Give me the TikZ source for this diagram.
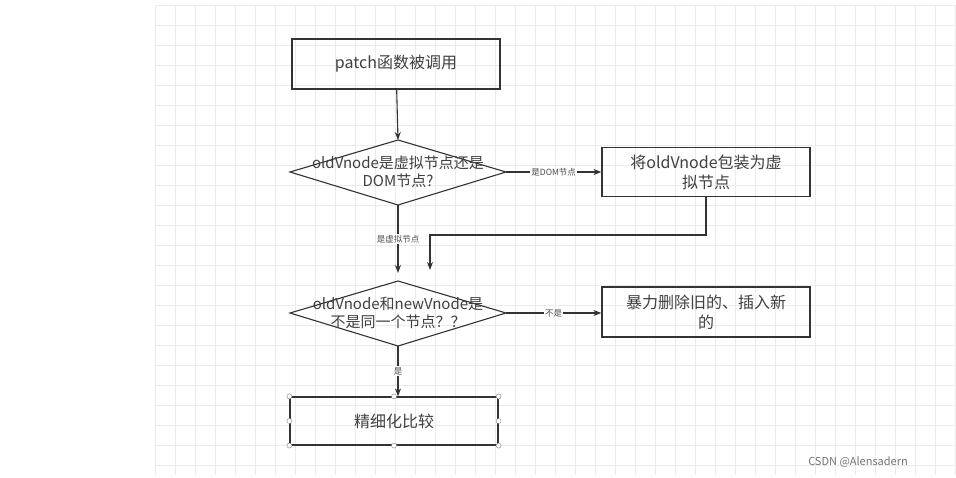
\documentclass[tikz,border=0pt]{standalone}
\usepackage{fontspec}
\setmainfont{Noto Sans CJK SC}
\usetikzlibrary{arrows.meta}
\begin{document}
\begin{tikzpicture}[x=1pt,y=-1pt,
 box/.style={draw=black!80,line width=1.2pt,minimum width=208pt,minimum height=50pt,align=center,font=\fontsize{16}{20}\selectfont,text=black!75,inner sep=2pt},
 dt/.style={align=center,font=\fontsize{15}{18}\selectfont,text=black!75,inner sep=0pt},
 dline/.style={draw=black!80,line width=1.1pt},
 arr/.style={draw=black!80,line width=1.1pt,-{Stealth[length=8pt,width=6pt]}},
 lab/.style={fill=white,inner sep=1pt,font=\fontsize{8.5}{10}\selectfont,text=black!70},
 hd/.style={circle,draw=black!50,fill=white,inner sep=0pt,minimum size=5pt}]
\useasboundingbox (0,0) rectangle (956,478);
\fill[white] (0,0) rectangle (956,478);
\foreach \x in {155,175,...,955} \draw[black!8,line width=0.5pt] (\x,5) -- (\x,475);
\foreach \y in {5,25,...,475} \draw[black!8,line width=0.5pt] (155,\y) -- (955,\y);
\node[box] (p) at (396,64) {patch函数被调用};
% diamond 1
\coordinate (d1n) at (398,140); \coordinate (d1e) at (506,172);
\coordinate (d1s) at (398,205); \coordinate (d1w) at (290,172);
\draw[dline] (d1n) -- (d1e) -- (d1s) -- (d1w) -- cycle;
\node[dt] (d1) at (398,172) {oldVnode是虚拟节点还是\\DOM节点?};
% diamond 2
\coordinate (d2n) at (398,281); \coordinate (d2e) at (506,313);
\coordinate (d2s) at (398,346); \coordinate (d2w) at (290,313);
\draw[dline] (d2n) -- (d2e) -- (d2s) -- (d2w) -- cycle;
\node[dt] (d2) at (398,313) {oldVnode和newVnode是\\不是同一个节点？？};
\node[box,minimum height=49pt] (b2) at (706,172) {将oldVnode包装为虚\\拟节点};
\node[box] (b3) at (706,312) {暴力删除旧的、插入新\\的};
\node[box,minimum height=48pt] (b4) at (394,421) {精细化比较};
\foreach \a in {north west,north,north east,east,south east,south,south west,west}
  \node[hd] (h\a) at (b4.\a) {};
\coordinate (t1) at (430,235);
\coordinate (t2) at (430,270);
\coordinate (t3) at (398,273);
\draw[arr] (p) -- (d1n);
\draw[arr] (d1e) -- node[lab]{是DOM节点} (b2.west |- d1e);
\draw[arr] (d1s) -- node[lab,pos=0.5]{是虚拟节点} (t3);
\draw[arr] (b2.south) |- (t1) -- (t2);
\draw[arr] (d2e) -- node[lab]{不是} (b3.west |- d2e);
\draw[arr] (d2s) -- node[lab,pos=0.5]{是} (d2s |- b4.north);
\node[font=\fontsize{11}{13}\selectfont,text=black!55] (w) at (858,462) {CSDN @Alensadern};
\end{tikzpicture}
\end{document}
